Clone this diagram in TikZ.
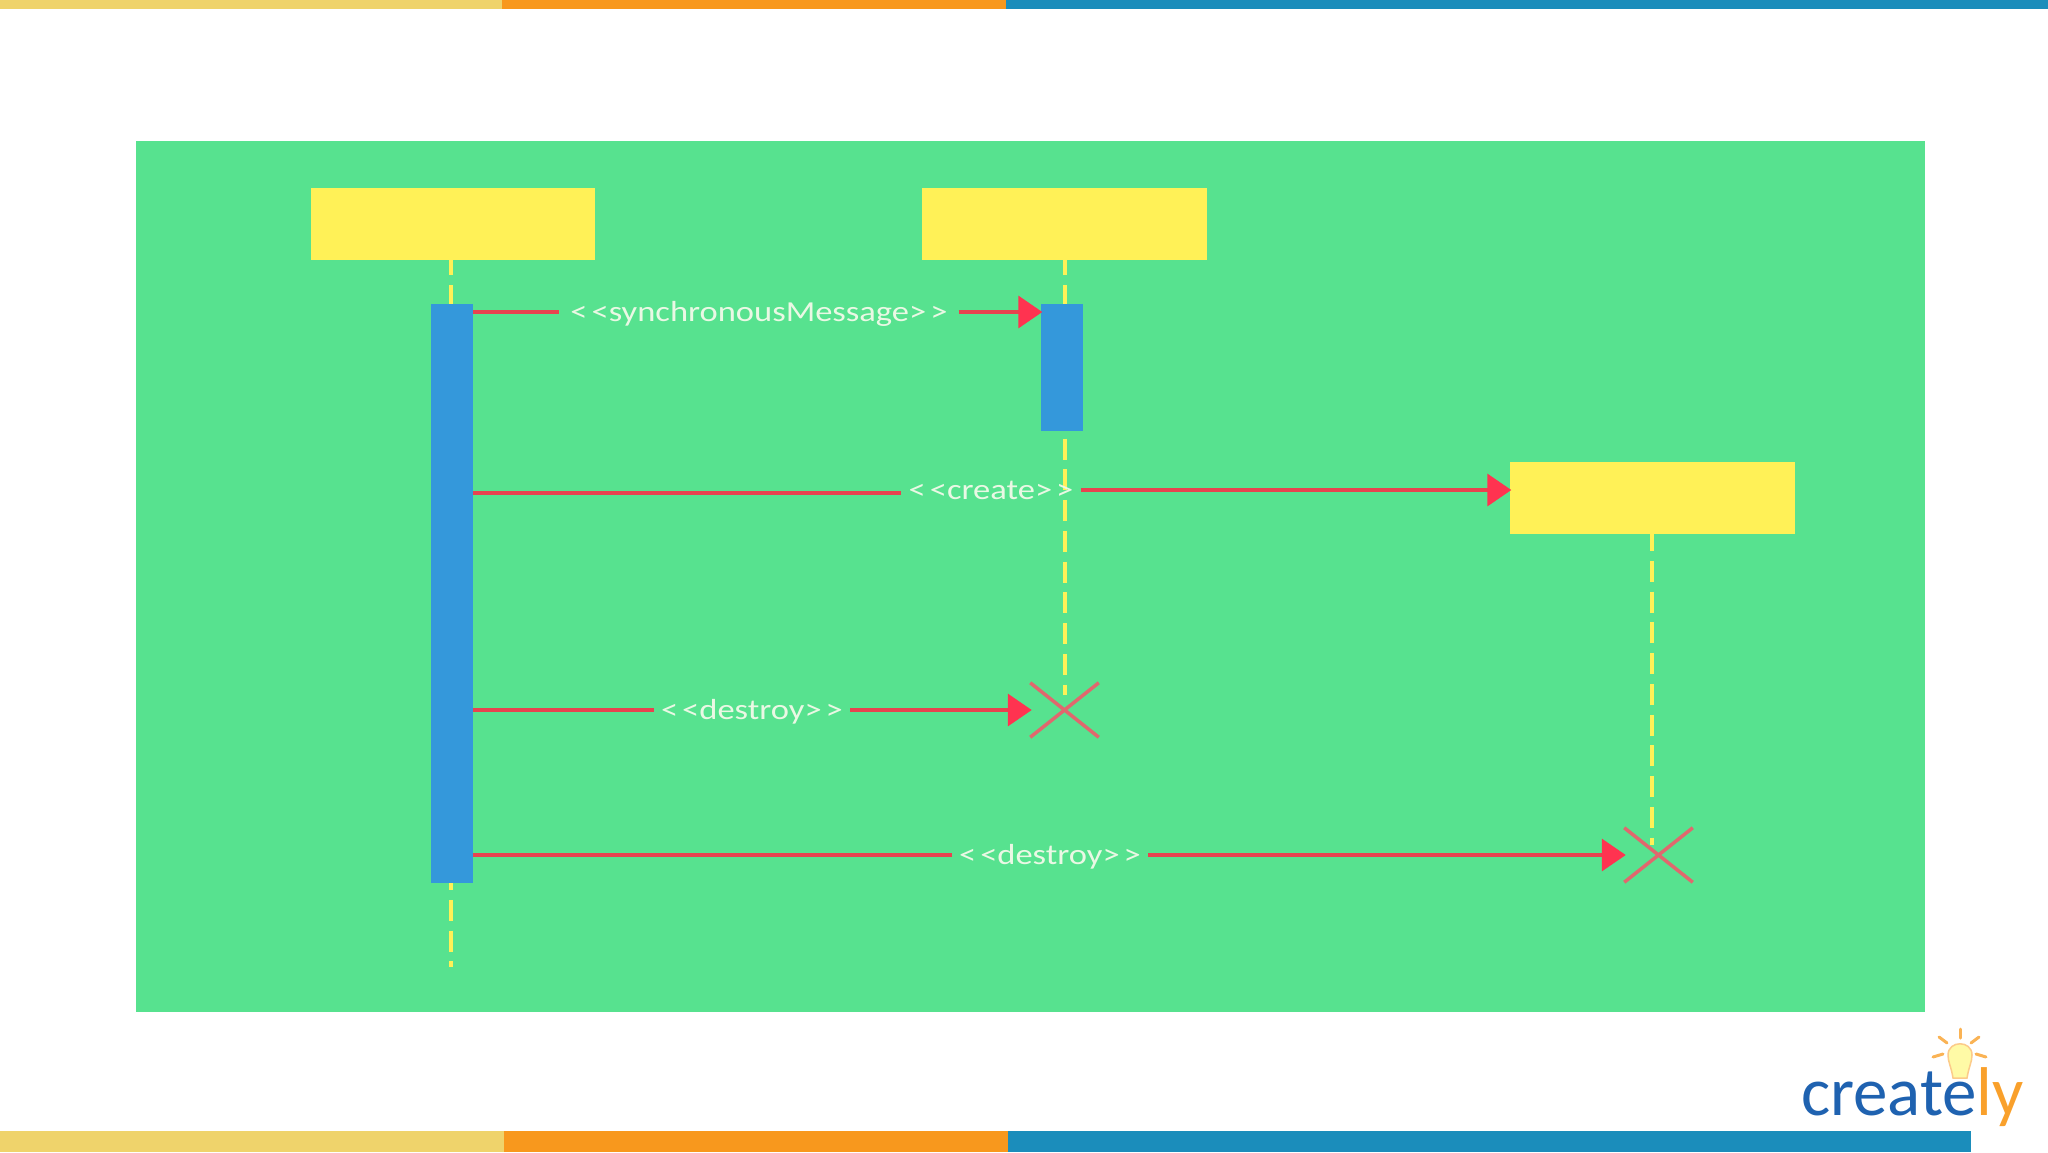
\documentclass[tikz,border=0pt]{standalone}
\usepackage{fontspec}
\usepackage{xcolor}
\setmainfont{Carlito}
\newfontfamily\msgfont{Carlito}[FakeStretch=1.19]
\usetikzlibrary{arrows.meta,shapes.misc}
\definecolor{panelgreen}{HTML}{57E28F}
\definecolor{boxyellow}{HTML}{FFF157}
\definecolor{barblue}{HTML}{3498DB}
\definecolor{msgred}{HTML}{E8434F}
\definecolor{tipred}{HTML}{FF3350}
\definecolor{killred}{HTML}{E0686E}
\definecolor{stripsand}{HTML}{EFD36B}
\definecolor{striporange}{HTML}{F8981D}
\definecolor{stripblue}{HTML}{1B8DBB}
\definecolor{logoblue}{HTML}{1F62B0}
\definecolor{logoorange}{HTML}{F9A02B}
\definecolor{labelwhite}{HTML}{EAF8E4}
\newcommand{\stereo}[1]{<\kern4pt<#1>\kern4pt>}
\tikzset{
  strip/.style={rectangle,fill=#1,draw=none,inner sep=0,anchor=north west},
  lifebox/.style={rectangle,fill=boxyellow,draw=none,inner sep=0,minimum width=285,minimum height=72},
  actbar/.style={rectangle,fill=barblue,draw=none,inner sep=0,minimum width=42},
  lifeline/.style={draw=boxyellow,line width=4,dash pattern=on 21 off 9.75,dash phase=#1},
  msgline/.style={draw=msgred,line width=3.5},
  msgtip/.style={-{Triangle[length=24,width=32,fill=tipred,color=tipred]},shorten >=-1.5},
  msglabel/.style={text=labelwhite,font=\msgfont\fontsize{29}{29}\selectfont,inner xsep=7,inner ysep=0,text height=24,text depth=6},
  killmark/.style={cross out,draw=killred,line width=3.5,inner sep=0,minimum width=65,minimum height=51},
  ray/.style={draw=logoorange!80,line width=3,line cap=round}
}
\begin{document}
\begin{tikzpicture}[x=1pt,y=-1pt]
\useasboundingbox (0,0) rectangle (2048,1152);
\node [strip=stripsand,minimum width=502,minimum height=9] (top1) at (0,0) {};
\node [strip=striporange,minimum width=504,minimum height=9] (top2) at (502,0) {};
\node [strip=stripblue,minimum width=1042,minimum height=9] (top3) at (1006,0) {};
\node [strip=stripsand,minimum width=504,minimum height=21] (bot1) at (0,1131) {};
\node [strip=striporange,minimum width=504,minimum height=21] (bot2) at (504,1131) {};
\node [strip=stripblue,minimum width=963,minimum height=21] (bot3) at (1008,1131) {};
\node [strip=panelgreen,minimum width=1789,minimum height=871] (panel) at (136,141) {};
\node [lifebox,minimum width=284] (box1) at (452.5,224) {};
\node [lifebox] (box2) at (1064.5,224) {};
\node [lifebox] (box3) at (1652.5,498) {};
\coordinate (end1) at (451,967);
\coordinate (end2) at (1064.5,695);
\coordinate (end3) at (1651.5,845);
\draw [lifeline=6] (box1.south -| end1) -- (end1);
\draw [lifeline=6] (box2.south) -- (end2);
\draw [lifeline=4] (box3.south -| end3) -- (end3);
\node [actbar,minimum height=579] (act1) at (452,593.5) {};
\node [actbar,minimum height=127] (act2) at (1062,367.5) {};
\node [killmark] (kill1) at (1064.5,710) {};
\node [killmark] (kill2) at (1658.5,855) {};
\node [msglabel,inner xsep=11] (sync) at (759,312) {\stereo{synchronousMessage}};
\node [msglabel] (create) at (991,490) {\stereo{create}};
\node [msglabel] (destroy1) at (752,710) {\stereo{destroy}};
\node [msglabel] (destroy2) at (1050,855) {\stereo{destroy}};
\coordinate (sync0) at (act1.east |- sync);
\coordinate (create0) at (473,493);
\coordinate (destroy10) at (act1.east |- destroy1);
\coordinate (destroy20) at (act1.east |- destroy2);
\draw [msgline] (sync0) -- (sync);
\draw [msgline,msgtip] (sync) -- (act2.west |- sync);
\draw [msgline] (create0) -- (create.west |- create0);
\draw [msgline,msgtip] (create) -- (box3.west |- create);
\draw [msgline] (destroy10) -- (destroy1);
\draw [msgline,msgtip] (destroy1) -- (kill1.west);
\draw [msgline] (destroy20) -- (destroy2);
\draw [msgline,msgtip] (destroy2) -- (kill2.west);
\coordinate (ray1a) at (1960,1029); \coordinate (ray1b) at (1960,1038);
\coordinate (ray2a) at (1939,1037); \coordinate (ray2b) at (1947,1043);
\coordinate (ray3a) at (1979,1037); \coordinate (ray3b) at (1971,1043);
\coordinate (ray4a) at (1933,1057); \coordinate (ray4b) at (1943,1054);
\coordinate (ray5a) at (1986,1057); \coordinate (ray5b) at (1976,1054);
\draw [ray] (ray1a) -- (ray1b);
\draw [ray] (ray2a) -- (ray2b);
\draw [ray] (ray3a) -- (ray3b);
\draw [ray] (ray4a) -- (ray4b);
\draw [ray] (ray5a) -- (ray5b);
\draw [fill=yellow!35,draw=logoorange!55,line width=1.5] (1953,1078) .. controls (1951,1066) and (1948,1062) .. (1948,1055) .. controls (1948,1040) and (1972,1040) .. (1972,1055) .. controls (1972,1062) and (1969,1066) .. (1967,1078) -- cycle;
\node [anchor=base west,inner sep=0,font=\fontsize{69}{69}\selectfont] (logo) at (1801,1115) {\textcolor{logoblue}{create}\textcolor{logoorange}{ly}};
\end{tikzpicture}
\end{document}
